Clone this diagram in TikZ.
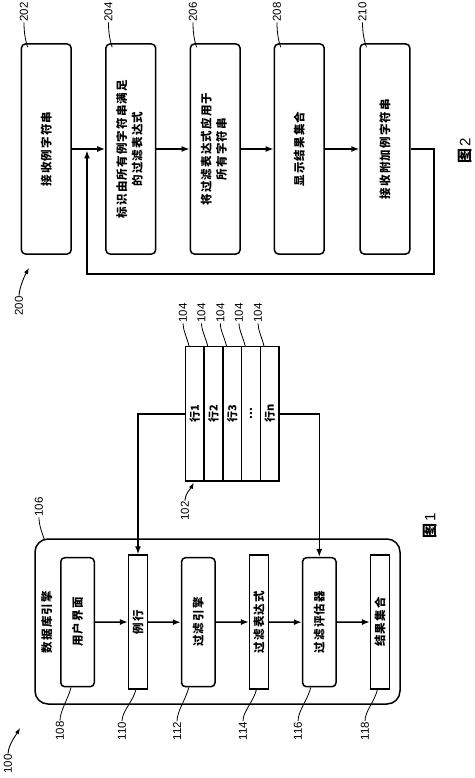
\documentclass[tikz,border=0pt]{standalone}
\usepackage{fontspec}
\setmainfont{Liberation Sans}
\newfontfamily\cjk[LetterSpace=10]{Noto Sans CJK SC}
\newfontfamily\cjkn{Noto Sans CJK SC}
\usetikzlibrary{arrows.meta}
\tikzset{
  bxtwo/.style={draw, rounded corners=4pt, inner sep=0pt, minimum width=49.7pt, minimum height=210pt},
  rbox/.style={draw, rounded corners=4pt, inner sep=0pt, minimum width=33.5pt, minimum height=129pt},
  sbox/.style={draw, inner sep=0pt, minimum width=18.7pt, minimum height=134pt},
  colbox/.style={draw, inner sep=0pt, minimum width=18.7pt, minimum height=134.3pt, font=\cjkn\bfseries\fontsize{11}{11}\selectfont},
  num/.style={rotate=90, inner sep=0pt, font=\fontsize{11.5}{12}\selectfont},
  zh/.style={font=\cjk\bfseries\fontsize{11.5}{15.3}\selectfont},
  arr/.style={-{Latex[length=8pt,width=6pt]}},
  sarr/.style={-{Latex[length=6pt,width=4.5pt]}, line width=0.9pt},
  lead/.style={line width=0.8pt},
}
\begin{document}
\begin{tikzpicture}[x=1pt,y=-1pt,line width=1.5pt]
\fill[white] (0,0) rectangle (474,778);
\useasboundingbox (0,0) rectangle (474,778);

% ---------- Figure 2 ----------
\node[bxtwo, zh] (b202) at (46.3,149) {\rotatebox{90}{接收例字符串}};
\node[bxtwo, zh] (b204) at (130.8,149) {\rotatebox{90}{\begin{tabular}{@{}c@{}}标识由所有例字符串满足\\的过滤表达式\end{tabular}}};
\node[bxtwo, zh] (b206) at (215.2,149) {\rotatebox{90}{\begin{tabular}{@{}c@{}}将过滤表达式应用于\\所有字符串\end{tabular}}};
\node[bxtwo, zh] (b208) at (299.3,149) {\rotatebox{90}{显示结果集合}};
\node[bxtwo, zh] (b210) at (385,149) {\rotatebox{90}{接收附加例字符串}};

\draw[arr] (b202.east) -- (b204.west);
\draw[arr] (b204.east) -- (b206.west);
\draw[arr] (b206.east) -- (b208.west);
\draw[arr] (b208.east) -- (b210.west);

\coordinate (fbR) at (434,274);
\coordinate (fbL) at (87,274);
\coordinate (fbT) at (87,150.5);
\draw[arr] (b210.east) -| (fbR) -- (fbL) -- (fbT);

\node[num] (l202) at (24,12) {202};
\node[num] (l204) at (108.5,12) {204};
\node[num] (l206) at (193,12) {206};
\node[num] (l208) at (277,12) {208};
\node[num] (l210) at (362.5,12) {210};
\foreach \n in {202,204,206,208,210}{
  \draw[lead] (l\n.west) .. controls +(0,8) and +(-3,-9) .. ([shift={(7,4)}]b\n.north west);
}

\node[num] (l200) at (19,306) {200};
\coordinate (t200) at (29,268);
\draw[sarr] (l200.east) .. controls +(0.5,-9) and +(-4,7) .. (t200);

\node[rotate=90, inner sep=0pt] (fig2) at (465,151) {\fontsize{15}{15}\selectfont{\cjkn\bfseries 图}\,2};

% ---------- Figure 1 : table ----------
\node[colbox] (c1) at (194.8,413.8) {\rotatebox{90}{行1}};
\node[colbox] (c2) at (213.5,413.8) {\rotatebox{90}{行2}};
\node[colbox] (c3) at (232.3,413.8) {\rotatebox{90}{行3}};
\node[colbox] (c4) at (251,413.8) {\rotatebox{90}{...}};
\node[colbox] (c5) at (269.8,413.8) {\rotatebox{90}{行n}};

\node[num] (l104a) at (183,313) {104};
\node[num] (l104b) at (201.5,313) {104};
\node[num] (l104c) at (220.3,313) {104};
\node[num] (l104d) at (239,313) {104};
\node[num] (l104e) at (258,313) {104};
\draw[lead] (l104a.west) .. controls +(0,7) and +(-2,-9) .. ([shift={(4.5,1)}]c1.north west);
\draw[lead] (l104b.west) .. controls +(0,7) and +(-2,-9) .. ([shift={(4.5,1)}]c2.north west);
\draw[lead] (l104c.west) .. controls +(0,7) and +(-2,-9) .. ([shift={(4.5,1)}]c3.north west);
\draw[lead] (l104d.west) .. controls +(0,7) and +(-2,-9) .. ([shift={(4.5,1)}]c4.north west);
\draw[lead] (l104e.west) .. controls +(0,7) and +(-2,-9) .. ([shift={(4.5,1)}]c5.north west);

\node[num] (l102) at (185,511) {102};
\draw[sarr] (l102.east) .. controls +(0.5,-8) and +(-3,6) .. ([shift={(9,1)}]c1.south west);

% ---------- Figure 1 : database engine ----------
\node[draw, rounded corners=13pt, inner sep=0pt, minimum width=365pt, minimum height=165pt] (n106) at (217.5,621.5) {};
\node[zh, inner sep=0pt] (dbl) at (46.7,622) {\rotatebox{90}{数据库引擎}};

\node[rbox, zh] (n108) at (77.5,622.2) {\rotatebox{90}{用户界面}};
\node[sbox, zh] (n110) at (138,622) {\rotatebox{90}{例行}};
\node[rbox, zh] (n112) at (198.3,622.2) {\rotatebox{90}{过滤引擎}};
\node[sbox, zh] (n114) at (259,622) {\rotatebox{90}{过滤表达式}};
\node[rbox, zh] (n116) at (319.3,622.2) {\rotatebox{90}{过滤评估器}};
\node[sbox, zh] (n118) at (380,622) {\rotatebox{90}{结果集合}};

\draw[arr] (n108.east) -- (n110.west);
\draw[arr] (n110.east) -- (n112.west);
\draw[arr] (n112.east) -- (n114.west);
\draw[arr] (n114.east) -- (n116.west);
\draw[arr] (n116.east) -- (n118.west);

\draw[arr] (c1.west) -| (n110.north);
\draw[arr] (c5.east) -| (n116.north);

\node[num] (l106) at (39,507) {106};
\draw[lead] (l106.west) .. controls +(0,8) and +(-3,-9) .. ([shift={(10,1)}]n106.north west);

\node[num] (l108) at (60,731) {108};
\node[num] (l110) at (122,731) {110};
\node[num] (l112) at (177,731) {112};
\node[num] (l114) at (243,731) {114};
\node[num] (l116) at (298,731) {116};
\node[num] (l118) at (365,731) {118};
\draw[lead] (l108.east) .. controls +(0,-10) and +(-3,12) .. ([xshift=11pt]n108.south west);
\draw[lead] (l110.east) .. controls +(0,-10) and +(-3,12) .. ([xshift=8pt]n110.south west);
\draw[lead] (l112.east) .. controls +(0,-10) and +(-3,12) .. ([xshift=8pt]n112.south west);
\draw[lead] (l114.east) .. controls +(0,-10) and +(-3,12) .. ([xshift=7.5pt]n114.south west);
\draw[lead] (l116.east) .. controls +(0,-10) and +(-3,12) .. ([xshift=9pt]n116.south west);
\draw[lead] (l118.east) .. controls +(0,-10) and +(-3,12) .. ([xshift=7.5pt]n118.south west);

\node[num] (l100) at (8,764) {100};
\coordinate (t100) at (20,728);
\draw[sarr] (l100.east) .. controls +(0.5,-9) and +(-4,7) .. (t100);

\node[rotate=90, inner sep=0pt] (fig1) at (430,526) {\fontsize{15}{15}\selectfont{\cjkn\bfseries 图}\,1};
\end{tikzpicture}
\end{document}
